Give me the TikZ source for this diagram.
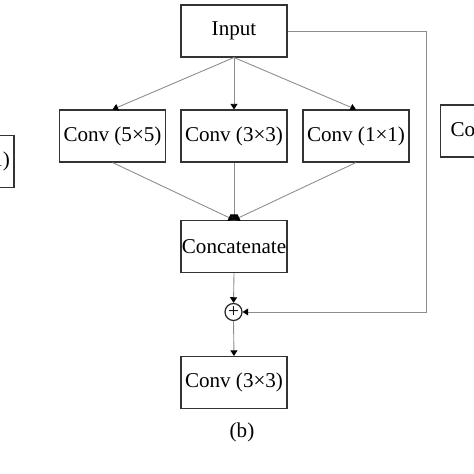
\documentclass[tikz,border=0pt]{standalone}
\usepackage{fontspec}
\setmainfont{Liberation Serif}
\usetikzlibrary{arrows.meta}
\tikzset{
  block/.style={draw=black!80,line width=0.6pt,minimum width=2.12cm,minimum height=1.04cm,inner sep=0pt},
  conn/.style={draw=black!45,line width=0.5pt,-{Triangle[length=3.2pt,width=4pt,color=black]}}
}
\begin{document}
\begin{tikzpicture}[x=1cm,y=1cm,every node/.style={font=\fontsize{12}{14}\selectfont}]
\useasboundingbox (0,0) rectangle (9.48,9.48);
\clip (0,0) rectangle (9.48,9.48);
% neighbouring panels, cut by the frame
\node[block] (leftconv) at (-0.78,6.25) {Conv (1×1)};
\node[block,anchor=west,inner xsep=0.2cm] (rightconv) at (8.80,6.86) {Conv (3×3)};
% panel (b)
\node[block] (input) at (4.68,8.86) {Input};
\node[block] (conv5) at (2.25,6.76) {Conv (5×5)};
\node[block] (conv3) at (4.68,6.76) {Conv (3×3)};
\node[block] (conv1) at (7.12,6.76) {Conv (1×1)};
\node[block] (concat) at (4.68,4.55) {Concatenate};
\node[draw=black!85,line width=0.7pt,circle,minimum size=0.34cm,inner sep=0pt,font=\fontsize{11}{11}\selectfont] (add) at (4.67,3.24) {+};
\node[block] (output) at (4.68,1.83) {Conv (3×3)};
\node (caption) at (4.84,0.84) {(b)};
\coordinate (turn) at (8.52,3.24);
\draw[conn] (input.south) -- (conv5.north);
\draw[conn] (input.south) -- (conv3.north);
\draw[conn] (input.south) -- (conv1.north);
\draw[conn] (conv5.south) -- (concat.north);
\draw[conn] (conv3.south) -- (concat.north);
\draw[conn] (conv1.south) -- (concat.north);
\draw[conn] (concat.south) -- (add.north);
\draw[conn] (input.east) -| (turn) -- (add.east);
\draw[conn] (add.south) -- (output.north);
\end{tikzpicture}
\end{document}
